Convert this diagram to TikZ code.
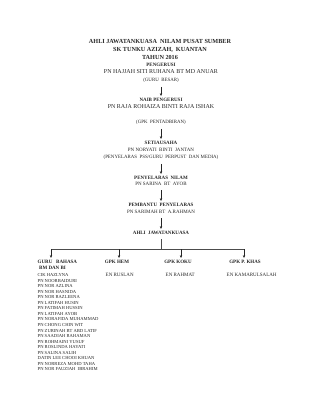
\documentclass[tikz,border=0pt]{standalone}
\usepackage{fontspec}
\setmainfont{Liberation Serif}
\usepackage{tikz}
\usetikzlibrary{arrows.meta, positioning, calc}

\begin{document}
\begin{tikzpicture}[
  x=1pt, y=-1pt,
  every node/.style={inner sep=0.5pt, text=black!85},
  ttl/.style={font=\fontsize{6.2}{8}\selectfont\bfseries, align=center},
  role/.style={font=\fontsize{5}{6}\selectfont\bfseries},
  bigname/.style={font=\fontsize{6}{7}\selectfont},
  pname/.style={font=\fontsize{5}{6}\selectfont},
  note/.style={font=\fontsize{4.9}{6}\selectfont},
  hdr/.style={font=\fontsize{5}{6}\selectfont\bfseries, align=left},
  member/.style={font=\fontsize{4.6}{5.53}\selectfont, align=left},
  arr/.style={-{Stealth[length=3pt, width=2.4pt]}, thick, black!85,
    shorten <=4pt, shorten >=1.5pt},
  bus/.style={thick, black!70},
]
  \useasboundingbox (0,0) rectangle (320,414);

  % title
  \node[ttl] (title) at (160,49) {AHLI JAWATANKUASA\ \ NILAM PUSAT SUMBER\\
    SK TUNKU AZIZAH,\ \ KUANTAN\\TAHUN 2016};

  % pengerusi
  \node[role]    (peng)  at (161,65) {PENGERUSI};
  \node[bigname] (pengn) at (161,72) {PN HAJJAH SITI RUHANA BT MD ANUAR};
  \node[note]    (gb)    at (161,80) {(GURU\ \ BESAR)};

  % naib pengerusi
  \node[role]    (naib)  at (161,100) {NAIB PENGERUSI};
  \node[bigname] (naibn) at (161,107) {PN RAJA ROHAIZA BINTI RAJA ISHAK};
  \node[note]    (gpk)   at (161,122) {(GPK\ \ PENTADBIRAN)};

  % setiausaha
  \node[role]  (su)  at (161,143) {SETIAUSAHA};
  \node[pname] (sun) at (161,150) {PN NORYATI\ \ BINTI\ \ JANTAN};
  \node[note]  (sux) at (161,157) {(PENYELARAS\ \ PSS/GURU\ \ PERPUST\ \ DAN MEDIA)};

  % penyelaras
  \node[role]  (py)  at (161,178) {PENYELARAS\ \ NILAM};
  \node[pname] (pyn) at (161,184) {PN SARINA\ \ BT\ \ AYOB};

  % pembantu
  \node[role]  (pb)  at (161,205) {PEMBANTU\ \ PENYELARAS};
  \node[pname] (pbn) at (161,212) {PN SARIMAH BT\ \ A.RAHMAN};

  \node[role] (ajk) at (161,233) {AHLI\ \ JAWATANKUASA};

  % branches
  \coordinate (b1) at (51,249);
  \coordinate (b2) at (119,249);
  \coordinate (b3) at (181,249);
  \coordinate (b4) at (244,249);

  \node[hdr, anchor=north west] (guru) at (37,259.5) {GURU\ \ \ BAHASA\\\hspace*{1.5pt}BM DAN BI};
  \node[hdr] (hem)  at (117,262) {GPK HEM};
  \node[hdr] (koku) at (178,262) {GPK KOKU};
  \node[hdr] (khas) at (245,262) {GPK P. KHAS};

  \node[pname, anchor=west] (hemn)  at (105,275) {EN RUSLAN};
  \node[pname, anchor=west] (kokun) at (165,275) {EN RAHMAT};
  \node[pname, anchor=west] (khasn) at (226,275) {EN KAMARULSALAH};

  \node[member, anchor=north west] (bmlist) at (37,273) {CIK HAZLYNA\\
    PN NOORBAIDURI\\PN NOR AZLINA\\PN NOR HASNIDA\\PN NOR RAZLEENA\\
    PN LATIFAH HUSIN\\PN FATIMAH HUSSIN\\PN LATIFAH AYOB\\
    PN NORAFIDA MUHAMMAD\\PN CHONG CHIN WIT\\PN ZURINAH BT ABD LATIF\\
    PN SAADIAH RAHAMAN\\PN ROHMAINI YUSUF\\PN ROSLINDA HAYATI\\
    PN SALINA SALIH\\DATIN LEE CHOOI KHUAN\\PN NORREZA MOHD TAHA\\
    PN NOR FAUZIAH\ \ IBRAHIM};

  \draw[arr] (gb) -- (naib);
  \draw[arr] (gpk) -- (su);
  \draw[arr] (sux) -- (py);
  \draw[arr] (pyn) -- (pb);
  \draw[arr] (pbn) -- (ajk);

  \draw[bus] ([yshift=-4pt]ajk.south) -- (ajk.south |- b1);
  \draw[bus] (b1) -- (b4);
  \draw[arr, shorten <=0pt] (b1) -- (b1 |- guru.north);
  \draw[arr, shorten <=0pt] (b2) -- (b2 |- hem.north);
  \draw[arr, shorten <=0pt] (b3) -- (b3 |- koku.north);
  \draw[arr, shorten <=0pt] (b4) -- (b4 |- khas.north);
\end{tikzpicture}
\end{document}
